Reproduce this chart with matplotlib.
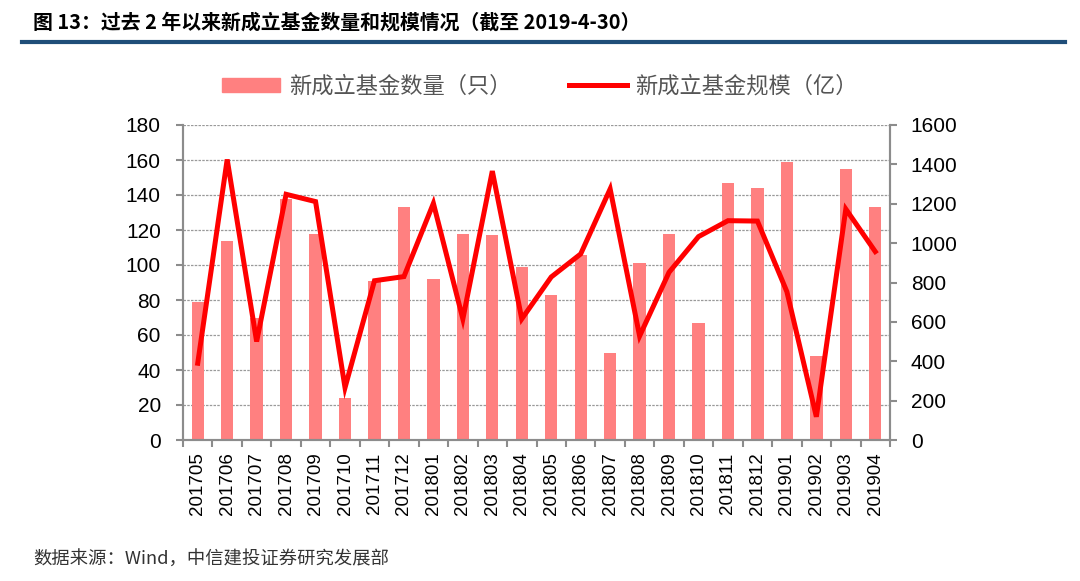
import matplotlib.pyplot as plt
import numpy as np
from matplotlib.lines import Line2D
from matplotlib.patches import Patch

months = ['201705', '201706', '201707', '201708', '201709', '201710', '201711', '201712',
          '201801', '201802', '201803', '201804', '201805', '201806', '201807', '201808',
          '201809', '201810', '201811', '201812', '201901', '201902', '201903', '201904']
fund_count = [79, 114, 70, 138, 118, 24, 91, 133, 92, 118, 117, 99,
              83, 106, 50, 101, 118, 67, 147, 144, 159, 48, 155, 133]
fund_scale = [390, 1425, 500, 1248, 1211, 266, 809, 830, 1202, 615, 1366, 615,
              828, 945, 1275, 528, 852, 1033, 1114, 1112, 753, 118, 1173, 957]

plt.rcParams['font.family'] = ['Liberation Sans', 'Noto Sans CJK SC', 'DejaVu Sans']
cjk = ['Noto Sans CJK SC', 'DejaVu Sans']

fig = plt.figure(figsize=(10.8, 5.81), dpi=100)
ax = fig.add_axes([183 / 1080, 1 - 440 / 581, (890 - 183) / 1080, 315 / 581])
ax2 = ax.twinx()

x = np.arange(len(months))
ax.bar(x, fund_count, width=0.42, color='#FF8080', zorder=2)
ax2.plot(x, fund_scale, color='#FF0000', lw=3.6, solid_joinstyle='miter', zorder=3)

spine_c = '#8C8C8C'
ax.set_xlim(-0.5, len(months) - 0.5)
ax.set_ylim(0, 180)
ax.set_yticks(range(0, 181, 20))
ax2.set_ylim(0, 1600)
ax2.set_yticks(range(0, 1601, 200))
ax.yaxis.grid(True, ls=(0, (2, 1)), color='#9A9A9A', lw=0.9, zorder=0)
ax.set_axisbelow(True)

ax.set_xticks(x)
ax.set_xticklabels(months, rotation=90, fontsize=13.5)
ax.set_xticks(np.arange(-0.5, len(months)), minor=True)
ax.tick_params(axis='x', which='major', length=0, pad=9)
ax.tick_params(axis='x', which='minor', length=5, color=spine_c, width=1.5)
ax.tick_params(axis='y', labelsize=15, length=5, color=spine_c, width=1.5, pad=11)
ax2.tick_params(axis='y', labelsize=15, length=5, color=spine_c, width=1.5, pad=10)

for a in (ax, ax2):
    a.spines['top'].set_visible(False)
    for s in ('left', 'right', 'bottom'):
        a.spines[s].set_color(spine_c)
        a.spines[s].set_linewidth(1.5)

handles = [Patch(color='#FF8080'), Line2D([], [], color='#FF0000', lw=3.6)]
labels = ['新成立基金数量（只）', '新成立基金规模（亿）']
fig.legend(handles, labels, loc='center', bbox_to_anchor=(540 / 1080, 1 - 86 / 581),
           ncol=2, frameon=False, prop={'family': cjk, 'size': 16},
           handlelength=2.6, handleheight=0.6, handletextpad=0.4, columnspacing=2.6,
           labelcolor='#555555')

fig.text(33 / 1080, 1 - 22 / 581, '图 13：过去 2 年以来新成立基金数量和规模情况（截至 2019-4-30）',
         family=cjk, weight='bold', fontsize=14.3, va='center', ha='left')
fig.add_artist(Line2D([22 / 1080, 1065 / 1080], [1 - 42 / 581, 1 - 42 / 581],
                      color='#1F4E79', lw=3, transform=fig.transFigure))
fig.text(33 / 1080, 1 - 560 / 581, '数据来源：Wind，中信建投证券研究发展部',
         family=cjk, style='italic', fontsize=13.2, va='center', ha='left', color='#333333')

fig.savefig('out.png', dpi=100)
